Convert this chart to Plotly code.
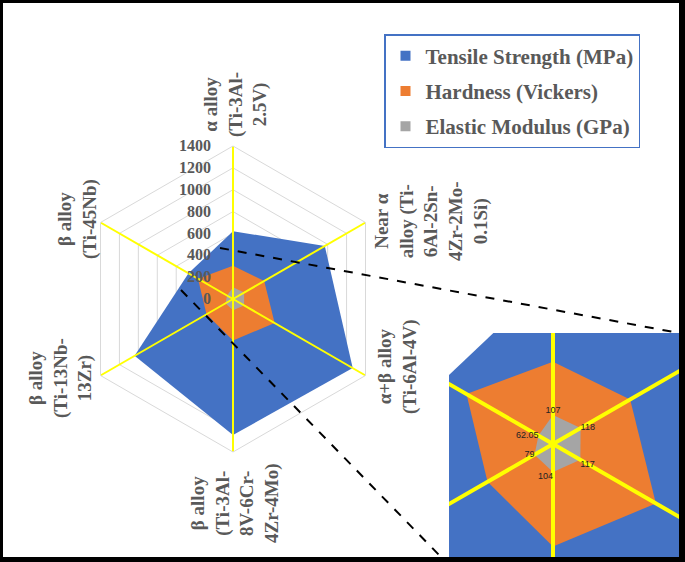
import numpy as np
import plotly.graph_objects as go

# --- données ---
categories = [
    "α alloy (Ti-3Al-2.5V)",
    "Near α alloy (Ti-6Al-2Sn-4Zr-2Mo-0.1Si)",
    "α+β alloy (Ti-6Al-4V)",
    "β alloy (Ti-3Al-8V-6Cr-4Zr-4Mo)",
    "β alloy (Ti-13Nb-13Zr)",
    "β alloy (Ti-45Nb)",
]
category_labels = [
    "α alloy<br>(Ti-3Al-<br>2.5V)",
    "Near α<br>alloy (Ti-<br>6Al-2Sn-<br>4Zr-2Mo-<br>0.1Si)",
    "α+β alloy<br>(Ti-6Al-4V)",
    "β alloy<br>(Ti-3Al-<br>8V-6Cr-<br>4Zr-4Mo)",
    "β alloy<br>(Ti-13Nb-<br>13Zr)",
    "β alloy<br>(Ti-45Nb)",
]
tensile = [620, 970, 1265, 1245, 1040, 470]
hardness = [305, 330, 440, 380, 280, 370]
modulus = [107, 118, 117, 104, 79, 62.05]
modulus_text = ["107", "118", "117", "104", "79", "62.05"]
radial_ticks = [0, 200, 400, 600, 800, 1000, 1200, 1400]

BLUE, ORANGE, GREY = "#4472C4", "#ED7D31", "#A5A5A5"
YELLOW = "#FFFF00"
TEXT = "#595959"
SERIF = "Liberation Serif, Times New Roman, serif"
W, H = 685, 562

series = [
    ("Tensile Strength (MPa)", tensile, BLUE),
    ("Hardness (Vickers)", hardness, ORANGE),
    ("Elastic Modulus (GPa)", modulus, GREY),
]
rmax = radial_ticks[-1]


def px(x, y):
    # pixels -> coordonnées paper
    return x / W, 1 - y / H


fig = go.Figure()

# radar principal
for name, vals, col in series:
    fig.add_trace(go.Scatterpolar(
        r=vals + vals[:1], theta=categories + categories[:1],
        fill="toself", fillcolor=col, mode="none", showlegend=False,
        subplot="polar",
    ))
spoke_r, spoke_t = [], []
for c in categories:
    spoke_r += [0, rmax, None]
    spoke_t += [c, c, c]
fig.add_trace(go.Scatterpolar(
    r=spoke_r, theta=spoke_t, mode="lines", line=dict(color=YELLOW, width=2),
    showlegend=False, subplot="polar", connectgaps=False,
))

# entrées de légende (carrés)
for name, vals, col in series:
    fig.add_trace(go.Scatterpolar(
        r=[None], theta=[categories[0]], mode="markers", name=name,
        marker=dict(symbol="square", size=10, color=col), subplot="polar",
        legendgroup=name,
    ))

# encart zoomé : même données, projetées en cartésien
ang = np.deg2rad(90 - 60 * np.arange(len(categories)))
for name, vals, col in series:
    r = np.array(vals + vals[:1], dtype=float)
    a = np.append(ang, ang[0])
    fig.add_trace(go.Scatter(
        x=r * np.cos(a), y=r * np.sin(a), fill="toself", fillcolor=col,
        mode="none", showlegend=False, xaxis="x", yaxis="y", hoverinfo="skip",
    ))
sx, sy = [], []
for a in ang:
    sx += [0, rmax * np.cos(a), None]
    sy += [0, rmax * np.sin(a), None]
fig.add_trace(go.Scatter(
    x=sx, y=sy, mode="lines", line=dict(color=YELLOW, width=4),
    showlegend=False, xaxis="x", yaxis="y",
))
mod = np.array(modulus)
fig.add_trace(go.Scatter(
    x=mod * np.cos(ang), y=mod * np.sin(ang), mode="text", text=modulus_text,
    textposition=["top center", "middle right", "bottom right",
                  "bottom left", "middle left", "middle left"],
    textfont=dict(family="Liberation Sans, Arial", size=9, color="#222222"),
    showlegend=False, xaxis="x", yaxis="y",
))

# géométrie
cx, cy, R = 233, 299, 153
pdx0, pdy1 = px(cx - R, cy - R)
pdx1, pdy0 = px(cx + R, cy + R)
ix0, iy1 = px(449, 333)
ix1, iy0 = px(679, 557)
icx, icy, scale = 553, 444, 0.27

fig.update_layout(
    width=W, height=H, margin=dict(l=0, r=0, t=0, b=0),
    paper_bgcolor="white", plot_bgcolor="white",
    font=dict(family=SERIF, color=TEXT),
    polar=dict(
        domain=dict(x=[pdx0, pdx1], y=[pdy0, pdy1]),
        gridshape="linear", bgcolor="rgba(0,0,0,0)",
        angularaxis=dict(
            rotation=90, direction="clockwise", showticklabels=False,
            showgrid=False, showline=True, linecolor="#D9D9D9", ticks="",
        ),
        radialaxis=dict(
            range=[0, rmax], tickvals=radial_ticks, angle=90, tickangle=90,
            side="counterclockwise", showline=False,
            ticks="outside", ticklen=16, tickcolor="rgba(0,0,0,0)",
            gridcolor="#D9D9D9", gridwidth=1, layer="above traces",
            tickfont=dict(family=SERIF, size=16, color=TEXT, weight="bold"),
        ),
    ),
    xaxis=dict(
        domain=[ix0, ix1], range=[(449 - icx) / scale, (679 - icx) / scale],
        visible=False, showgrid=False, zeroline=False,
    ),
    yaxis=dict(
        domain=[iy0, iy1], range=[(icy - 557) / scale, (icy - 333) / scale],
        visible=False, showgrid=False, zeroline=False,
    ),
    legend=dict(
        x=px(384, 0)[0], y=px(0, 34)[1], xanchor="left", yanchor="top",
        bordercolor="#4472C4", borderwidth=1.5, bgcolor="white",
        font=dict(family=SERIF, size=21, color=TEXT, weight="bold"),
        tracegroupgap=5,
    ),
)

# étiquettes de catégories, verticales
label_pos = [(235, 105), (431, 221), (397, 367), (235, 503), (60, 378), (77, 219)]
for txt, (x, y) in zip(category_labels, label_pos):
    ax, ay = px(x, y)
    fig.add_annotation(
        x=ax, y=ay, xref="paper", yref="paper", text=txt, showarrow=False,
        textangle=-90, xanchor="center", yanchor="middle", align="center",
        font=dict(family=SERIF, size=19, color=TEXT, weight="bold"),
    )

# lignes pointillées vers l'encart + cadre
for (x0, y0), (x1, y1) in [((220, 248), (679, 333)), ((181, 290), (441, 557))]:
    a0, b0 = px(x0, y0)
    a1, b1 = px(x1, y1)
    fig.add_shape(type="line", xref="paper", yref="paper", x0=a0, y0=b0, x1=a1, y1=b1,
                  line=dict(color="black", width=2, dash="dash"))
fig.add_shape(type="rect", xref="paper", yref="paper", x0=0, y0=px(0, 560)[1],
              x1=px(682, 0)[0], y1=1, line=dict(color="black", width=6))

fig.write_html(
    "out.html", config={"displayModeBar": False},
    post_script="document.body.style.margin='0';document.body.style.overflow='hidden';",
)
